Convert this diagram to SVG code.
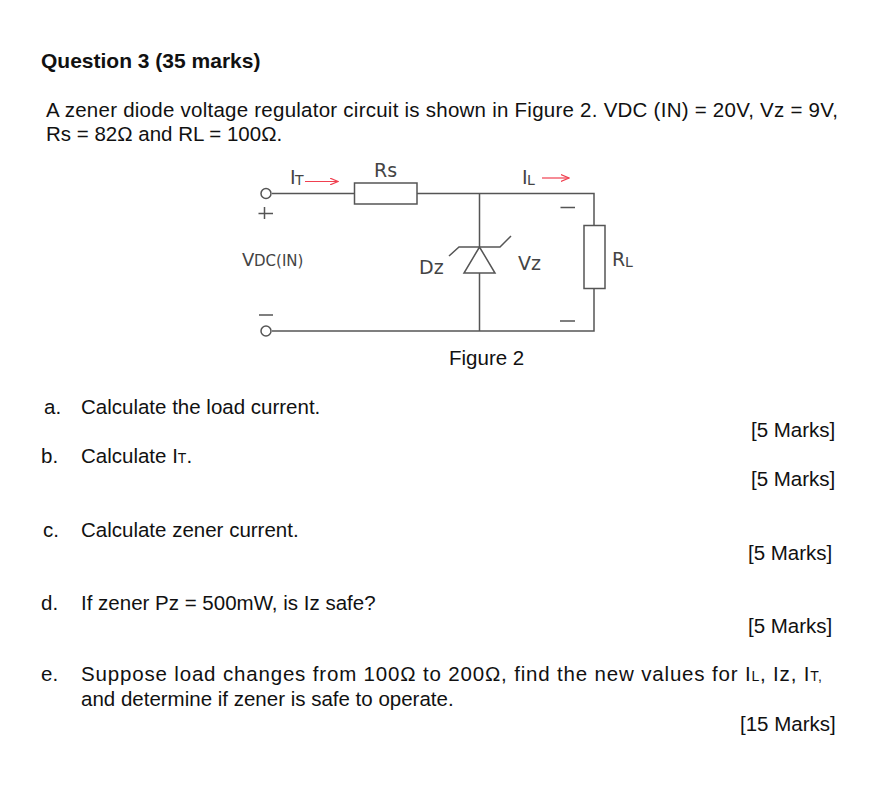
<svg xmlns="http://www.w3.org/2000/svg" width="885" height="788" viewBox="0 0 885 788">
<style>
.t{font-family:"Liberation Sans",Arial,sans-serif;font-size:20.5px;fill:#111}
.b{font-weight:bold;font-size:21px}
.s{font-size:14px}
.c{font-family:"DejaVu Sans",sans-serif;font-size:19px;fill:#444}
.cs{font-size:14px}
.w{fill:none;stroke:#555;stroke-width:1.5}
.e{fill:#fff;stroke:#555;stroke-width:1.5}
.r{fill:none;stroke:#f04050;stroke-width:1.2}
</style>
<defs><marker id="a" markerWidth="8" markerHeight="6" refX="7" refY="3" orient="auto"><path d="M0 0L7 3L0 6" fill="none" stroke="#f04050" stroke-width="1"/></marker></defs>
<rect width="885" height="788" fill="#fff"/>
<text class="t b" x="41" y="68">Question 3 (35 marks)</text>
<text class="t" x="46" y="117" textLength="792" lengthAdjust="spacing">A zener diode voltage regulator circuit is shown in Figure 2. VDC (IN) = 20V, Vz = 9V,</text>
<text class="t" x="46" y="141">Rs = 82Ω and RL = 100Ω.</text>
<g id="connectors">
<path class="w" d="M272 193.500H354M417 193.500H594V225M594 289V331H272M479.500 193.500V247M479.500 273V331"/>
<path class="w" d="M449 256L459 247H500L511 236"/>
<path class="w" d="M264.500 207V219M258.500 213.500H273M259 315H273M560.500 207.500H575M560 321H575"/>
<path class="r" marker-end="url(#a)" d="M305 181.500H338"/>
<path class="r" marker-end="url(#a)" d="M542 178H569"/>
</g>
<g id="vin-plus"><circle class="e" cx="266" cy="193.500" r="5"/></g>
<g id="vin-minus"><circle class="e" cx="266" cy="331" r="5"/></g>
<g id="rs"><rect class="e" x="354.500" y="183" width="62.500" height="21"/></g>
<g id="dz"><path class="e" d="M479.500 247L464 273H495Z"/></g>
<g id="rl"><rect class="e" x="584" y="225.500" width="21" height="63"/></g>
<g id="labels">
<text class="c" x="290" y="184">I</text><text class="c cs" x="295" y="185">T</text>
<text class="c" x="374" y="177">Rs</text>
<text class="c" x="242" y="266" style="font-size:18px">V</text><text class="c cs" x="254" y="266" style="font-size:15px">DC(IN)</text>
<text class="c" x="419" y="274">Dz</text>
<text class="c" x="518" y="270">Vz</text>
<text class="c" x="522" y="184">I</text><text class="c cs" x="527" y="185">L</text>
<text class="c" x="612" y="266">R</text><text class="c cs" x="625" y="267">L</text>
</g>
<text class="t" x="449" y="365">Figure 2</text>
<text class="t" x="44" y="414">a.</text><text class="t" x="81" y="414">Calculate the load current.</text>
<text class="t" x="751" y="437">[5 Marks]</text>
<text class="t" x="41" y="463">b.</text><text class="t" x="81" y="463">Calculate I<tspan class="s">T</tspan>.</text>
<text class="t" x="751" y="486">[5 Marks]</text>
<text class="t" x="43" y="537">c.</text><text class="t" x="81" y="537">Calculate zener current.</text>
<text class="t" x="748" y="560">[5 Marks]</text>
<text class="t" x="41" y="610">d.</text><text class="t" x="81" y="610">If zener Pz = 500mW, is Iz safe?</text>
<text class="t" x="748" y="633">[5 Marks]</text>
<text class="t" x="41" y="681">e.</text><text class="t" x="81" y="681" textLength="741" lengthAdjust="spacing">Suppose load changes from 100Ω to 200Ω, find the new values for I<tspan class="s">L</tspan>, Iz, I<tspan class="s">T,</tspan></text>
<text class="t" x="81" y="706">and determine if zener is safe to operate.</text>
<text class="t" x="740" y="731">[15 Marks]</text>
</svg>
